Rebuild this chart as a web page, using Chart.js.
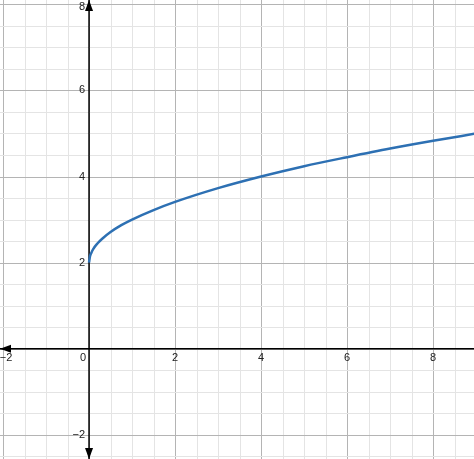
<!DOCTYPE html>
<html><head><meta charset="utf-8">
<script src="https://cdn.jsdelivr.net/npm/chart.js@4/dist/chart.umd.min.js"></script>
<style>html,body{margin:0;padding:0;background:#fff}#c{display:block}</style>
</head><body>
<canvas id="c" width="474" height="459"></canvas>
<script>
// Curve points
const curveX = [0, 0.02, 0.05, 0.1, 0.2, 0.3, 0.5, 0.75, 1, 1.5, 2, 3, 4, 5, 6, 7, 8, 9];
const curveY = [2, 2.14, 2.22, 2.32, 2.45, 2.55, 2.71, 2.87, 3, 3.22, 3.41, 3.73, 4, 4.24, 4.45, 4.65, 4.83, 5];
const xTickLabels = [-2, 0, 2, 4, 6, 8];
const yTickLabels = [-2, 2, 4, 6, 8];

const gridPlugin = {
  id: 'grid',
  beforeDatasetsDraw(chart) {
    const {ctx, chartArea: a, scales: {x, y}} = chart;
    ctx.save();
    const line = (x1, y1, x2, y2, c, w) => { ctx.strokeStyle = c; ctx.lineWidth = w; ctx.beginPath(); ctx.moveTo(x1, y1); ctx.lineTo(x2, y2); ctx.stroke(); };
    for (let v = -2; v <= 9; v += 0.5) {
      const px = Math.round(x.getPixelForValue(v)) + 0.5;
      const major = Math.abs(v % 2) < 1e-9;
      line(px, a.top, px, a.bottom, major ? '#b4b4b4' : '#e4e4e4', 1);
    }
    for (let v = -3; v <= 8.5; v += 0.5) {
      const py = Math.round(y.getPixelForValue(v)) + 0.5;
      const major = Math.abs(v % 2) < 1e-9;
      line(a.left, py, a.right, py, major ? '#b4b4b4' : '#e4e4e4', 1);
    }
    const x0 = x.getPixelForValue(0), y0 = y.getPixelForValue(0);
    line(x0, a.top, x0, a.bottom, '#000', 1.5);
    line(a.left, y0, a.right, y0, '#000', 1.5);
    ctx.fillStyle = '#000';
    const tri = (p) => { ctx.beginPath(); ctx.moveTo(...p[0]); ctx.lineTo(...p[1]); ctx.lineTo(...p[2]); ctx.closePath(); ctx.fill(); };
    tri([[x0, a.top], [x0 - 4, a.top + 11], [x0 + 4, a.top + 11]]);
    tri([[x0, a.bottom], [x0 - 4, a.bottom - 11], [x0 + 4, a.bottom - 11]]);
    tri([[a.left, y0], [a.left + 11, y0 - 4], [a.left + 11, y0 + 4]]);
    ctx.font = '11px Arial, "Liberation Sans", sans-serif';
    ctx.fillStyle = '#222';
    ctx.textAlign = 'center'; ctx.textBaseline = 'top';
    xTickLabels.forEach(v => {
      let px = x.getPixelForValue(v);
      if (v === 0) px -= 6;
      if (v === -2) px = Math.max(px, 6);
      ctx.fillText(String(v).replace('-', '−'), px, y0 + 4);
    });
    ctx.textAlign = 'right'; ctx.textBaseline = 'middle';
    yTickLabels.forEach(v => {
      let py = y.getPixelForValue(v);
      if (v === 8) py = Math.max(py, 7);
      ctx.fillText(String(v).replace('-', '−'), x0 - 4, py);
    });
    ctx.restore();
  }
};

new Chart(document.getElementById('c'), {
  type: 'line',
  data: { datasets: [{
    data: curveX.map((v, i) => ({x: v, y: curveY[i]})),
    borderColor: '#2d70b3', borderWidth: 2.5, pointRadius: 0,
    cubicInterpolationMode: 'monotone', fill: false
  }]},
  options: {
    responsive: false, animation: false,
    layout: { padding: 0 },
    plugins: { legend: { display: false }, tooltip: { enabled: false } },
    scales: {
      x: { type: 'linear', min: -2.07, max: 8.95, display: false },
      y: { type: 'linear', min: -2.56, max: 8.1, display: false }
    }
  },
  plugins: [gridPlugin]
});
</script>
</body></html>
